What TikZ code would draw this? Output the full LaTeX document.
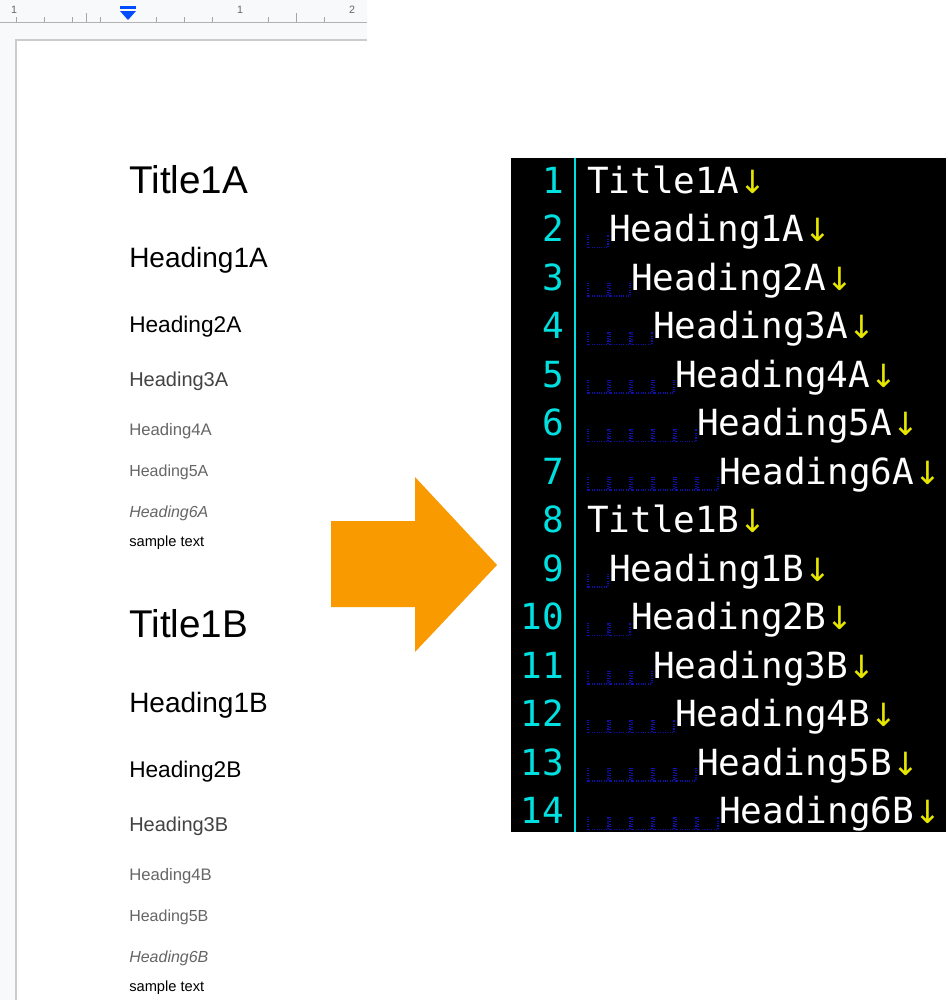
\documentclass[tikz,border=0pt]{standalone}
\usepackage{fontspec}
\setmainfont{Liberation Sans}
\newfontfamily\mono{DejaVu Sans Mono}
\newfontfamily\sym{DejaVu Sans}
\definecolor{orng}{HTML}{F99A00}
\definecolor{cyn}{HTML}{00E0E0}
\definecolor{ylw}{HTML}{E6E600}
\definecolor{spc}{HTML}{1010B0}
\definecolor{gA}{HTML}{434343}
\definecolor{gB}{HTML}{666666}
\definecolor{rul}{HTML}{F8F9FA}
\tikzset{
  doc/.style={anchor=base west,inner sep=0pt},
  ln/.style={anchor=base east,inner sep=0pt,text=cyn,font=\mono\fontsize{27pt}{27pt}\selectfont},
  src/.style={anchor=base west,inner sep=0pt,text=white,font=\mono\fontsize{27pt}{27pt}\selectfont},
  nl/.style={anchor=base west,inner sep=0pt,text=ylw,font=\sym\fontsize{24pt}{24pt}\selectfont},
  spcmark/.style={draw=spc,densely dotted,line width=0.8pt}
}
\begin{document}
\begin{tikzpicture}[x=0.75pt,y=-0.75pt]
\useasboundingbox (0,0) rectangle (948,1000);
\fill[white] (0,0) rectangle (948,1000);
% ruler / page
\fill[rul] (0,0) rectangle (367,1000);
\fill[white] (16,40) rectangle (367,1000);
\draw[gray!40,line width=0.8pt] (16,1000) -- (16,40) -- (367,40);
\draw[gray!60,line width=0.6pt] (0,22) -- (367,22);
\foreach \x in {16,44,72,100,156,184,212,268,296,324} \draw[gray!70,line width=0.5pt] (\x,22) -- (\x,17);
\foreach \x in {86,296} \draw[gray!70,line width=0.5pt] (\x,22) -- (\x,13);
\node[inner sep=0pt,text=gray!80!black,font=\fontsize{8pt}{8pt}\selectfont] (r1) at (14,10) {1};
\node[inner sep=0pt,text=gray!80!black,font=\fontsize{8pt}{8pt}\selectfont] (r2) at (240,10) {1};
\node[inner sep=0pt,text=gray!80!black,font=\fontsize{8pt}{8pt}\selectfont] (r3) at (352,10) {2};
\fill[blue!70!cyan] (120,6) rectangle (136,9);
\fill[blue!70!cyan] (120,11) -- (136,11) -- (128,20) -- cycle;
% left document
\node[doc,font=\fontsize{29pt}{29pt}\selectfont] (t1a) at (129,193) {Title1A};
\node[doc,font=\fontsize{21pt}{21pt}\selectfont] (h1a) at (129,267) {Heading1A};
\node[doc,font=\fontsize{17pt}{17pt}\selectfont] (h2a) at (129,332) {Heading2A};
\node[doc,text=gA,font=\fontsize{15pt}{15pt}\selectfont] (h3a) at (129,386) {Heading3A};
\node[doc,text=gB,font=\fontsize{12.5pt}{12.5pt}\selectfont] (h4a) at (129,435) {Heading4A};
\node[doc,text=gB,font=\fontsize{12pt}{12pt}\selectfont] (h5a) at (129,476) {Heading5A};
\node[doc,text=gB,font=\itshape\fontsize{12pt}{12pt}\selectfont] (h6a) at (129,517) {Heading6A};
\node[doc,font=\fontsize{11pt}{11pt}\selectfont] (sa) at (129,546) {sample text};
\node[doc,font=\fontsize{29pt}{29pt}\selectfont] (t1b) at (129,637) {Title1B};
\node[doc,font=\fontsize{21pt}{21pt}\selectfont] (h1b) at (129,712) {Heading1B};
\node[doc,font=\fontsize{17pt}{17pt}\selectfont] (h2b) at (129,777) {Heading2B};
\node[doc,text=gA,font=\fontsize{15pt}{15pt}\selectfont] (h3b) at (129,831) {Heading3B};
\node[doc,text=gB,font=\fontsize{12.5pt}{12.5pt}\selectfont] (h4b) at (129,880) {Heading4B};
\node[doc,text=gB,font=\fontsize{12pt}{12pt}\selectfont] (h5b) at (129,921) {Heading5B};
\node[doc,text=gB,font=\itshape\fontsize{12pt}{12pt}\selectfont] (h6b) at (129,962) {Heading6B};
\node[doc,font=\fontsize{11pt}{11pt}\selectfont] (sb) at (129,991) {sample text};
% arrow
\fill[orng] (331,521) -- (415,521) -- (415,477) -- (497,565) -- (415,652) -- (415,607) -- (331,607) -- cycle;
% editor
\fill[black] (511,158) rectangle (946,832);
\draw[cyn,line width=1pt] (575,158) -- (575,832);
\foreach \n/\txt/\lev in {1/Title1A/0,2/Heading1A/1,3/Heading2A/2,4/Heading3A/3,5/Heading4A/4,6/Heading5A/5,7/Heading6A/6,
  8/Title1B/0,9/Heading1B/1,10/Heading2B/2,11/Heading3B/3,12/Heading4B/4,13/Heading5B/5,14/Heading6B/6}{
  \pgfmathsetmacro\yy{193+48.5*(\n-1)}
  \node[ln] (num\n) at (564,\yy) {\n};
  \node[src] (line\n) at ({587+22*\lev},\yy) {\txt};
  \node[nl] (nl\n) at (line\n.base east) {↓};
  \ifnum\lev>0
    \foreach \k in {1,...,\lev}{
      \draw[spcmark] ({587+22*(\k-1)+1},\yy-7) -- ({587+22*(\k-1)+1},\yy+6) -- ({587+22*\k-1},\yy+6) -- ({587+22*\k-1},\yy-7);
    }
  \fi
}
\end{tikzpicture}
\end{document}
